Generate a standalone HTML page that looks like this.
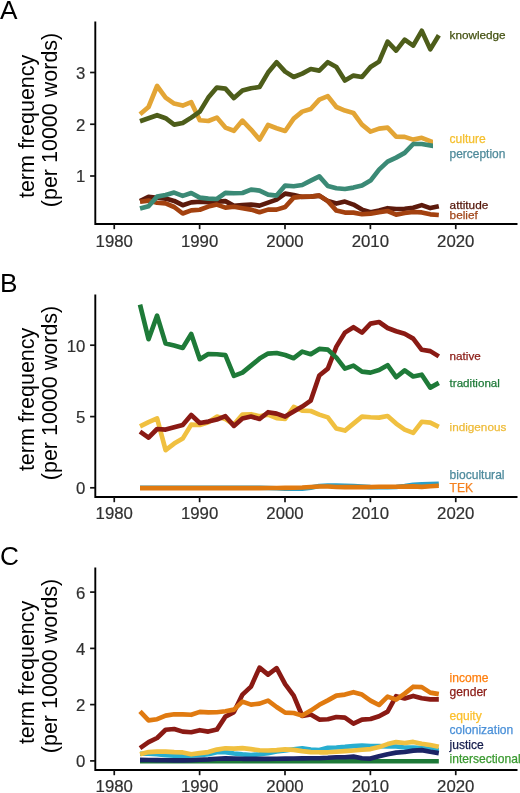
<!DOCTYPE html>
<html lang="en">
<head>
<meta charset="utf-8">
<title>Term frequency trends</title>
<style>
html,body{margin:0;padding:0;background:#fff;}
body{width:520px;height:793px;overflow:hidden;}
svg{display:block;}
svg text{font-family:"Liberation Sans",sans-serif;}
</style>
</head>
<body>
<svg width="520" height="793" viewBox="0 0 520 793">
<rect width="520" height="793" fill="#fff"/>
<path d="M95.3,21.4 V223.95 H517.5" fill="none" stroke="#000" stroke-width="1.9" stroke-linejoin="miter"/>
<line x1="90.1" x2="95.3" y1="72.5" y2="72.5" stroke="#111" stroke-width="1.7"/>
<text x="85.4" y="78.90" text-anchor="end" font-size="16.8" fill="#303030" stroke="#303030" stroke-width="0.2">3</text>
<line x1="90.1" x2="95.3" y1="124.25" y2="124.25" stroke="#111" stroke-width="1.7"/>
<text x="85.4" y="130.65" text-anchor="end" font-size="16.8" fill="#303030" stroke="#303030" stroke-width="0.2">2</text>
<line x1="90.1" x2="95.3" y1="176.0" y2="176.0" stroke="#111" stroke-width="1.7"/>
<text x="85.4" y="182.40" text-anchor="end" font-size="16.8" fill="#303030" stroke="#303030" stroke-width="0.2">1</text>
<line x1="114.25" x2="114.25" y1="223.95" y2="229.15" stroke="#111" stroke-width="1.7"/>
<text x="114.25" y="247" text-anchor="middle" font-size="16.8" fill="#303030" stroke="#303030" stroke-width="0.2">1980</text>
<line x1="199.62" x2="199.62" y1="223.95" y2="229.15" stroke="#111" stroke-width="1.7"/>
<text x="199.62" y="247" text-anchor="middle" font-size="16.8" fill="#303030" stroke="#303030" stroke-width="0.2">1990</text>
<line x1="285.00" x2="285.00" y1="223.95" y2="229.15" stroke="#111" stroke-width="1.7"/>
<text x="285.00" y="247" text-anchor="middle" font-size="16.8" fill="#303030" stroke="#303030" stroke-width="0.2">2000</text>
<line x1="370.38" x2="370.38" y1="223.95" y2="229.15" stroke="#111" stroke-width="1.7"/>
<text x="370.38" y="247" text-anchor="middle" font-size="16.8" fill="#303030" stroke="#303030" stroke-width="0.2">2010</text>
<line x1="455.75" x2="455.75" y1="223.95" y2="229.15" stroke="#111" stroke-width="1.7"/>
<text x="455.75" y="247" text-anchor="middle" font-size="16.8" fill="#303030" stroke="#303030" stroke-width="0.2">2020</text>
<text transform="translate(33.9,126.38) rotate(-90)" text-anchor="middle" font-size="21.5" fill="#000">term frequency</text>
<text transform="translate(56.5,119.97) rotate(-90)" text-anchor="middle" font-size="21.5" fill="#000">(per 10000 words)</text>
<text x="0" y="19" font-size="26.2" fill="#000">A</text>
<defs><clipPath id="clipA"><rect x="0" y="0" width="433" height="260"/></clipPath></defs>
<polyline points="140.01,201.10 148.55,196.80 157.09,197.80 165.62,198.60 174.16,200.90 182.70,205.20 191.24,202.40 199.78,201.70 208.31,202.20 216.85,201.60 225.39,201.10 233.92,205.90 242.46,205.00 251.00,204.60 259.54,205.60 268.07,202.60 276.61,199.60 285.15,193.60 293.69,195.00 302.22,197.00 310.76,196.60 319.30,195.60 327.84,201.10 336.38,203.60 344.91,201.60 353.45,204.60 361.99,209.60 370.52,212.20 379.06,210.60 387.60,208.20 396.14,209.00 404.67,208.80 413.21,207.80 421.75,205.10 430.29,208.10 438.82,206.20" fill="none" stroke="#5c1a0c" stroke-width="4.65" stroke-linejoin="round" stroke-linecap="butt"/>
<polyline points="140.01,201.70 148.55,200.60 157.09,202.80 165.62,203.40 174.16,207.00 182.70,213.50 191.24,210.40 199.78,209.80 208.31,206.60 216.85,204.60 225.39,207.60 233.92,206.80 242.46,208.20 251.00,209.60 259.54,212.20 268.07,209.60 276.61,209.60 285.15,207.00 293.69,197.60 302.22,196.60 310.76,196.60 319.30,195.60 327.84,201.10 336.38,210.60 344.91,212.60 353.45,212.60 361.99,214.20 370.52,213.60 379.06,212.20 387.60,211.00 396.14,214.60 404.67,213.00 413.21,212.00 421.75,212.40 430.29,214.35 438.82,215.00" fill="none" stroke="#a3410f" stroke-width="4.65" stroke-linejoin="round" stroke-linecap="butt"/>
<polyline clip-path="url(#clipA)" points="140.01,114.20 148.55,107.00 157.09,86.00 165.62,97.60 174.16,103.60 182.70,105.60 191.24,102.20 199.78,120.20 208.31,121.00 216.85,117.60 225.39,127.60 233.92,130.80 242.46,120.60 251.00,129.60 259.54,139.60 268.07,125.00 276.61,128.20 285.15,131.00 293.69,118.60 302.22,111.60 310.76,109.00 319.30,99.60 327.84,96.20 336.38,107.00 344.91,110.60 353.45,113.00 361.99,124.60 370.52,131.60 379.06,128.60 387.60,127.60 396.14,136.60 404.67,136.90 413.21,139.60 421.75,137.80 433.15,142.40 437.15,143.90" fill="none" stroke="#e3a535" stroke-width="4.65" stroke-linejoin="round" stroke-linecap="butt"/>
<polyline points="140.01,121.20 148.55,118.20 157.09,115.20 165.62,118.20 174.16,124.60 182.70,123.00 191.24,117.60 199.78,111.60 208.31,97.60 216.85,87.60 225.39,88.60 233.92,98.10 242.46,90.60 251.00,88.20 259.54,87.00 268.07,72.60 276.61,62.20 285.15,71.60 293.69,77.00 302.22,73.60 310.76,69.00 319.30,70.60 327.84,62.20 336.38,67.00 344.91,80.60 353.45,75.60 361.99,77.00 370.52,67.00 379.06,61.60 387.60,41.60 396.14,50.60 404.67,39.60 413.21,45.60 421.75,30.80 430.29,49.40 438.82,35.30" fill="none" stroke="#4d5d1a" stroke-width="4.65" stroke-linejoin="round" stroke-linecap="butt"/>
<polyline clip-path="url(#clipA)" points="140.01,208.60 148.55,206.20 157.09,196.60 165.62,195.00 174.16,192.60 182.70,195.90 191.24,193.00 199.78,197.60 208.31,198.60 216.85,199.00 225.39,192.90 233.92,193.30 242.46,193.00 251.00,189.60 259.54,190.60 268.07,194.60 276.61,195.60 285.15,185.60 293.69,186.20 302.22,185.00 310.76,180.60 319.30,176.40 327.84,186.00 336.38,188.20 344.91,189.00 353.45,187.60 361.99,185.60 370.52,180.60 379.06,169.60 387.60,161.60 396.14,157.60 404.67,152.90 413.21,144.00 421.75,144.00 433.15,146.00 437.15,146.70" fill="none" stroke="#3b8a76" stroke-width="4.65" stroke-linejoin="round" stroke-linecap="butt"/>
<text x="449.6" y="39" font-size="11.72" fill="#445212" stroke="#445212" stroke-width="0.25">knowledge</text>
<text x="449.6" y="143" font-size="12.05" fill="#f5c030" stroke="#f5c030" stroke-width="0.25">culture</text>
<text x="449.6" y="158" font-size="11.95" fill="#4f8a9a" stroke="#4f8a9a" stroke-width="0.25">perception</text>
<text x="449.6" y="209" font-size="11.8" fill="#55170a" stroke="#55170a" stroke-width="0.25">attitude</text>
<text x="449.6" y="219" font-size="11.8" fill="#a04518" stroke="#a04518" stroke-width="0.25">belief</text>
<path d="M95.3,294.4 V497.0 H517.5" fill="none" stroke="#000" stroke-width="1.9" stroke-linejoin="miter"/>
<line x1="90.1" x2="95.3" y1="345.2" y2="345.2" stroke="#111" stroke-width="1.7"/>
<text x="85.4" y="351.60" text-anchor="end" font-size="16.8" fill="#303030" stroke="#303030" stroke-width="0.2">10</text>
<line x1="90.1" x2="95.3" y1="416.6" y2="416.6" stroke="#111" stroke-width="1.7"/>
<text x="85.4" y="423.00" text-anchor="end" font-size="16.8" fill="#303030" stroke="#303030" stroke-width="0.2">5</text>
<line x1="90.1" x2="95.3" y1="487.8" y2="487.8" stroke="#111" stroke-width="1.7"/>
<text x="85.4" y="494.20" text-anchor="end" font-size="16.8" fill="#303030" stroke="#303030" stroke-width="0.2">0</text>
<line x1="114.25" x2="114.25" y1="497.0" y2="502.20" stroke="#111" stroke-width="1.7"/>
<text x="114.25" y="519" text-anchor="middle" font-size="16.8" fill="#303030" stroke="#303030" stroke-width="0.2">1980</text>
<line x1="199.62" x2="199.62" y1="497.0" y2="502.20" stroke="#111" stroke-width="1.7"/>
<text x="199.62" y="519" text-anchor="middle" font-size="16.8" fill="#303030" stroke="#303030" stroke-width="0.2">1990</text>
<line x1="285.00" x2="285.00" y1="497.0" y2="502.20" stroke="#111" stroke-width="1.7"/>
<text x="285.00" y="519" text-anchor="middle" font-size="16.8" fill="#303030" stroke="#303030" stroke-width="0.2">2000</text>
<line x1="370.38" x2="370.38" y1="497.0" y2="502.20" stroke="#111" stroke-width="1.7"/>
<text x="370.38" y="519" text-anchor="middle" font-size="16.8" fill="#303030" stroke="#303030" stroke-width="0.2">2010</text>
<line x1="455.75" x2="455.75" y1="497.0" y2="502.20" stroke="#111" stroke-width="1.7"/>
<text x="455.75" y="519" text-anchor="middle" font-size="16.8" fill="#303030" stroke="#303030" stroke-width="0.2">2020</text>
<text transform="translate(33.9,399.40) rotate(-90)" text-anchor="middle" font-size="21.5" fill="#000">term frequency</text>
<text transform="translate(56.5,393.00) rotate(-90)" text-anchor="middle" font-size="21.5" fill="#000">(per 10000 words)</text>
<text x="0" y="292" font-size="26.2" fill="#000">B</text>
<polyline points="140.01,487.70 148.55,487.70 157.09,487.70 165.62,487.70 174.16,487.70 182.70,487.70 191.24,487.70 199.78,487.70 208.31,487.70 216.85,487.70 225.39,487.70 233.92,487.70 242.46,487.70 251.00,487.70 259.54,487.80 268.07,488.00 276.61,488.30 285.15,488.60 293.69,488.70 302.22,488.60 310.76,487.60 319.30,486.00 327.84,485.60 336.38,485.60 344.91,485.70 353.45,486.00 361.99,486.60 370.52,487.10 379.06,487.20 387.60,487.20 396.14,487.00 404.67,486.00 413.21,484.70 421.75,484.30 430.29,484.00 438.82,483.70" fill="none" stroke="#2aa0c8" stroke-width="4.65" stroke-linejoin="round" stroke-linecap="butt"/>
<polyline points="140.01,426.40 148.55,422.20 157.09,418.40 165.62,450.20 174.16,443.60 182.70,438.60 191.24,424.60 199.78,425.00 208.31,422.20 216.85,416.60 225.39,419.10 233.92,424.60 242.46,414.60 251.00,414.20 259.54,416.20 268.07,414.60 276.61,418.20 285.15,419.00 293.69,407.00 302.22,410.60 310.76,411.00 319.30,414.60 327.84,417.40 336.38,428.60 344.91,430.60 353.45,423.60 361.99,416.60 370.52,417.20 379.06,417.60 387.60,416.00 396.14,423.60 404.67,429.60 413.21,432.90 421.75,421.80 430.29,422.60 438.82,426.80" fill="none" stroke="#f0c040" stroke-width="4.65" stroke-linejoin="round" stroke-linecap="butt"/>
<polyline points="140.01,431.60 148.55,437.60 157.09,429.00 165.62,429.60 174.16,427.20 182.70,425.00 191.24,415.00 199.78,423.00 208.31,421.60 216.85,419.60 225.39,416.20 233.92,425.90 242.46,418.60 251.00,416.60 259.54,419.00 268.07,412.20 276.61,413.60 285.15,416.60 293.69,411.60 302.22,406.60 310.76,400.60 319.30,375.50 327.84,368.60 336.38,346.60 344.91,332.60 353.45,327.20 361.99,332.60 370.52,323.60 379.06,322.00 387.60,328.00 396.14,331.20 404.67,333.80 413.21,338.60 421.75,349.80 430.29,351.10 438.82,356.40" fill="none" stroke="#8a1a14" stroke-width="4.65" stroke-linejoin="round" stroke-linecap="butt"/>
<polyline points="140.01,488.10 148.55,488.10 157.09,488.10 165.62,488.10 174.16,488.10 182.70,488.10 191.24,488.10 199.78,488.10 208.31,488.10 216.85,488.10 225.39,488.10 233.92,488.10 242.46,488.10 251.00,488.10 259.54,488.10 268.07,488.05 276.61,488.00 285.15,487.90 293.69,487.75 302.22,487.50 310.76,487.00 319.30,486.50 327.84,486.50 336.38,487.00 344.91,487.10 353.45,487.10 361.99,487.10 370.52,487.00 379.06,486.80 387.60,486.70 396.14,486.70 404.67,486.60 413.21,486.40 421.75,486.90 430.29,486.20 438.82,485.80" fill="none" stroke="#e07a10" stroke-width="4.65" stroke-linejoin="round" stroke-linecap="butt"/>
<polyline points="140.01,304.60 148.55,339.20 157.09,315.60 165.62,343.60 174.16,345.60 182.70,348.00 191.24,334.00 199.78,359.20 208.31,354.00 216.85,354.20 225.39,355.10 233.92,375.90 242.46,372.60 251.00,365.60 259.54,358.60 268.07,353.60 276.61,353.00 285.15,355.00 293.69,358.20 302.22,351.60 310.76,354.20 319.30,348.90 327.84,349.60 336.38,357.60 344.91,368.60 353.45,365.60 361.99,371.60 370.52,372.60 379.06,370.00 387.60,365.20 396.14,377.20 404.67,370.40 413.21,376.50 421.75,374.70 430.29,387.60 438.82,382.90" fill="none" stroke="#1e7a38" stroke-width="4.65" stroke-linejoin="round" stroke-linecap="butt"/>
<text x="449.6" y="360" font-size="11.7" fill="#8a1a14" stroke="#8a1a14" stroke-width="0.25">native</text>
<text x="449.6" y="387" font-size="11.6" fill="#1e7a38" stroke="#1e7a38" stroke-width="0.25">traditional</text>
<text x="449.6" y="431" font-size="11.72" fill="#eebb38" stroke="#eebb38" stroke-width="0.25">indigenous</text>
<text x="449.6" y="479" font-size="12.05" fill="#4d8a9c" stroke="#4d8a9c" stroke-width="0.25">biocultural</text>
<text x="449.6" y="492" font-size="12.1" fill="#f58220" stroke="#f58220" stroke-width="0.25">TEK</text>
<path d="M95.3,567.4 V770.0 H517.5" fill="none" stroke="#000" stroke-width="1.9" stroke-linejoin="miter"/>
<line x1="90.1" x2="95.3" y1="592.1" y2="592.1" stroke="#111" stroke-width="1.7"/>
<text x="85.4" y="598.50" text-anchor="end" font-size="16.8" fill="#303030" stroke="#303030" stroke-width="0.2">6</text>
<line x1="90.1" x2="95.3" y1="648.4" y2="648.4" stroke="#111" stroke-width="1.7"/>
<text x="85.4" y="654.80" text-anchor="end" font-size="16.8" fill="#303030" stroke="#303030" stroke-width="0.2">4</text>
<line x1="90.1" x2="95.3" y1="704.6" y2="704.6" stroke="#111" stroke-width="1.7"/>
<text x="85.4" y="711.00" text-anchor="end" font-size="16.8" fill="#303030" stroke="#303030" stroke-width="0.2">2</text>
<line x1="90.1" x2="95.3" y1="760.9" y2="760.9" stroke="#111" stroke-width="1.7"/>
<text x="85.4" y="767.30" text-anchor="end" font-size="16.8" fill="#303030" stroke="#303030" stroke-width="0.2">0</text>
<line x1="114.25" x2="114.25" y1="770.0" y2="775.20" stroke="#111" stroke-width="1.7"/>
<text x="114.25" y="792" text-anchor="middle" font-size="16.8" fill="#303030" stroke="#303030" stroke-width="0.2">1980</text>
<line x1="199.62" x2="199.62" y1="770.0" y2="775.20" stroke="#111" stroke-width="1.7"/>
<text x="199.62" y="792" text-anchor="middle" font-size="16.8" fill="#303030" stroke="#303030" stroke-width="0.2">1990</text>
<line x1="285.00" x2="285.00" y1="770.0" y2="775.20" stroke="#111" stroke-width="1.7"/>
<text x="285.00" y="792" text-anchor="middle" font-size="16.8" fill="#303030" stroke="#303030" stroke-width="0.2">2000</text>
<line x1="370.38" x2="370.38" y1="770.0" y2="775.20" stroke="#111" stroke-width="1.7"/>
<text x="370.38" y="792" text-anchor="middle" font-size="16.8" fill="#303030" stroke="#303030" stroke-width="0.2">2010</text>
<line x1="455.75" x2="455.75" y1="770.0" y2="775.20" stroke="#111" stroke-width="1.7"/>
<text x="455.75" y="792" text-anchor="middle" font-size="16.8" fill="#303030" stroke="#303030" stroke-width="0.2">2020</text>
<text transform="translate(33.9,672.40) rotate(-90)" text-anchor="middle" font-size="21.5" fill="#000">term frequency</text>
<text transform="translate(56.5,666.00) rotate(-90)" text-anchor="middle" font-size="21.5" fill="#000">(per 10000 words)</text>
<text x="0" y="565" font-size="26.2" fill="#000">C</text>
<polyline points="140.01,753.80 148.55,753.70 157.09,754.10 165.62,755.10 174.16,755.70 182.70,755.70 191.24,755.70 199.78,755.10 208.31,754.20 216.85,752.20 225.39,752.10 233.92,753.50 242.46,754.40 251.00,755.10 259.54,754.30 268.07,753.20 276.61,751.50 285.15,750.50 293.69,749.30 302.22,748.30 310.76,749.50 319.30,750.00 327.84,747.80 336.38,747.50 344.91,746.90 353.45,746.10 361.99,745.50 370.52,746.10 379.06,746.10 387.60,746.50 396.14,746.50 404.67,747.50 413.21,747.50 421.75,748.10 430.29,749.00 438.82,750.10" fill="none" stroke="#28aed0" stroke-width="4.65" stroke-linejoin="round" stroke-linecap="butt"/>
<polyline points="140.01,754.30 148.55,752.10 157.09,751.60 165.62,751.60 174.16,752.10 182.70,752.40 191.24,754.30 199.78,753.10 208.31,752.10 216.85,749.60 225.39,748.30 233.92,748.60 242.46,748.10 251.00,749.10 259.54,750.30 268.07,750.50 276.61,750.10 285.15,749.40 293.69,749.90 302.22,751.10 310.76,752.10 319.30,752.30 327.84,752.30 336.38,751.70 344.91,751.10 353.45,750.50 361.99,749.70 370.52,749.10 379.06,747.10 387.60,744.10 396.14,742.10 404.67,743.00 413.21,741.90 421.75,743.80 430.29,745.00 438.82,746.70" fill="none" stroke="#f0c040" stroke-width="4.65" stroke-linejoin="round" stroke-linecap="butt"/>
<polyline points="140.01,748.10 148.55,742.20 157.09,738.00 165.62,729.80 174.16,729.00 182.70,731.60 191.24,732.20 199.78,730.20 208.31,731.60 216.85,729.60 225.39,716.60 233.92,712.10 242.46,694.60 251.00,686.60 259.54,667.60 268.07,674.60 276.61,668.20 285.15,684.20 293.69,695.60 302.22,716.00 310.76,714.50 319.30,719.60 327.84,719.30 336.38,717.00 344.91,717.60 353.45,723.60 361.99,719.60 370.52,719.00 379.06,716.20 387.60,711.60 396.14,696.20 404.67,698.40 413.21,695.90 421.75,698.20 430.29,699.40 438.82,699.40" fill="none" stroke="#8a1a14" stroke-width="4.65" stroke-linejoin="round" stroke-linecap="butt"/>
<polyline points="140.01,711.40 148.55,720.40 157.09,719.20 165.62,715.60 174.16,714.30 182.70,714.40 191.24,714.80 199.78,711.90 208.31,712.40 216.85,712.20 225.39,711.30 233.92,709.60 242.46,701.60 251.00,704.60 259.54,703.60 268.07,700.60 276.61,707.00 285.15,712.60 293.69,713.00 302.22,715.60 310.76,710.60 319.30,704.80 327.84,700.40 336.38,695.60 344.91,694.60 353.45,692.20 361.99,694.60 370.52,700.60 379.06,705.00 387.60,696.60 396.14,699.60 404.67,693.60 413.21,686.70 421.75,687.10 430.29,692.60 438.82,694.10" fill="none" stroke="#e07a10" stroke-width="4.65" stroke-linejoin="round" stroke-linecap="butt"/>
<polyline points="140.01,761.25 148.55,761.25 157.09,761.25 165.62,761.25 174.16,761.25 182.70,761.25 191.24,761.25 199.78,761.25 208.31,761.25 216.85,761.25 225.39,761.25 233.92,761.25 242.46,761.25 251.00,761.25 259.54,761.25 268.07,761.25 276.61,761.25 285.15,761.25 293.69,761.25 302.22,761.25 310.76,761.25 319.30,761.25 327.84,761.25 336.38,761.25 344.91,761.25 353.45,761.25 361.99,761.25 370.52,761.25 379.06,761.25 387.60,761.25 396.14,761.25 404.67,761.25 413.21,761.25 421.75,761.25 430.29,761.25 438.82,761.25" fill="none" stroke="#1e7a38" stroke-width="4.65" stroke-linejoin="round" stroke-linecap="butt"/>
<polyline points="140.01,759.90 148.55,760.00 157.09,760.10 165.62,760.20 174.16,760.40 182.70,760.40 191.24,760.20 199.78,759.80 208.31,759.40 216.85,758.80 225.39,758.40 233.92,758.60 242.46,758.80 251.00,758.80 259.54,758.80 268.07,758.80 276.61,758.70 285.15,758.60 293.69,758.50 302.22,758.40 310.76,758.30 319.30,758.20 327.84,757.80 336.38,757.20 344.91,757.20 353.45,756.60 361.99,758.20 370.52,758.60 379.06,756.20 387.60,754.20 396.14,752.60 404.67,752.00 413.21,750.60 421.75,750.10 430.29,751.70 438.82,753.10" fill="none" stroke="#1c2466" stroke-width="4.65" stroke-linejoin="round" stroke-linecap="butt"/>
<text x="449.6" y="682" font-size="12.05" fill="#ff7f0e" stroke="#ff7f0e" stroke-width="0.25">income</text>
<text x="449.6" y="696" font-size="12.05" fill="#8a1a14" stroke="#8a1a14" stroke-width="0.25">gender</text>
<text x="449.6" y="720" font-size="12.05" fill="#fcc02e" stroke="#fcc02e" stroke-width="0.25">equity</text>
<text x="449.6" y="734" font-size="12.05" fill="#4a90d8" stroke="#4a90d8" stroke-width="0.25">colonization</text>
<text x="449.6" y="749" font-size="12.05" fill="#151d4c" stroke="#151d4c" stroke-width="0.25">justice</text>
<text x="449.6" y="763" font-size="12.05" fill="#3a9a30" stroke="#3a9a30" stroke-width="0.25">intersectional</text>
</svg>
</body>
</html>
